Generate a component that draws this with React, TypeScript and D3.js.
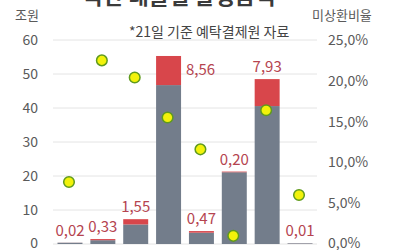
import React from "react";
import * as d3 from "d3";

const categories = ["1", "2", "3", "4", "5", "6", "7", "8"];
const totalIssued = [0.4, 1.45, 7.3, 55.3, 3.8, 21.3, 48.5, 0.2];
const unredeemed = [0.02, 0.33, 1.55, 8.56, 0.47, 0.2, 7.93, 0.01];
const unredeemedRatio = [7.6, 22.5, 20.4, 15.5, 11.6, 1.0, 16.4, 6.0];
const leftTicks = [0, 10, 20, 30, 40, 50, 60];
const rightTicks = [0, 5, 10, 15, 20, 25];

const FONT = "'Noto Sans CJK KR', 'Noto Sans', sans-serif";

export default function App() {
  const W = 400;
  const H = 250;
  const x = d3
    .scaleBand<string>()
    .domain(categories)
    .range([53, 317])
    .paddingInner(0.24)
    .paddingOuter(0.137);
  const yL = d3.scaleLinear().domain([0, 60]).range([244, 40]);
  const yR = d3.scaleLinear().domain([0, 25]).range([244, 40]);
  const fmtVal = (v: number) => d3.format(".2f")(v).replace(".", ",");
  const fmtPct = (v: number) => d3.format(".1f")(v).replace(".", ",") + "%";

  const gray = "#737d8b";
  const red = "#d8464b";
  const labelRed = "#b54450";
  const axisText = "#5a5a5a";

  return (
    <svg
      width={W}
      height={H}
      style={{ position: "absolute", left: 0, top: 0, background: "#fff" }}
      fontFamily={FONT}
    >
      <rect width={W} height={H} fill="#fff" />
      {/* title (cut off at top) */}
      <text x={83} y={4} fontSize={22} fontWeight={700} fill="#3a3a3a">
        국간 대출별 발행금액
      </text>
      <text x={15} y={20} fontSize={13} fill={axisText}>
        조원
      </text>
      <text x={312} y={20} fontSize={13} fill={axisText}>
        미상환비율
      </text>
      {/* gridlines */}
      {leftTicks.map((t) => (
        <line
          key={"g" + t}
          x1={53}
          x2={317}
          y1={yL(t)}
          y2={yL(t)}
          stroke="#e4e4e4"
          strokeWidth={1}
        />
      ))}
      <text x={129} y={37} fontSize={14} fill="#444">
        *21일 기준 예탁결제원 자료
      </text>
      {leftTicks.map((t) => (
        <text
          key={"l" + t}
          x={38}
          y={yL(t)}
          dy={t === 0 ? "0.28em" : "0.35em"}
          textAnchor="end"
          fontSize={14}
          fill={axisText}
        >
          {t}
        </text>
      ))}
      {rightTicks.map((t) => (
        <text
          key={"r" + t}
          x={328}
          y={yR(t)}
          dy={t === 0 ? "0.28em" : "0.35em"}
          fontSize={14}
          fill={axisText}
        >
          {fmtPct(t)}
        </text>
      ))}
      {/* bars */}
      {categories.map((c, i) => {
        const bx = x(c)!;
        const bw = x.bandwidth();
        const paid = totalIssued[i] - unredeemed[i];
        const yPaidTop = yL(paid);
        const yTop = yL(totalIssued[i]);
        return (
          <g key={"b" + c}>
            <rect x={bx} y={yPaidTop} width={bw} height={yL(0) - yPaidTop} fill={gray} />
            <rect x={bx} y={yTop} width={bw} height={yPaidTop - yTop} fill={red} />
          </g>
        );
      })}
      {/* value labels */}
      {categories.map((c, i) => {
        const bx = x(c)!;
        const bw = x.bandwidth();
        const yTop = yL(totalIssued[i]);
        const side = i === 3;
        if (side) {
          const mid = (yTop + yL(totalIssued[i] - unredeemed[i])) / 2;
          return (
            <text key={"v" + c} x={bx + bw + 5} y={mid + 4} fontSize={15} fill={labelRed}>
              {fmtVal(unredeemed[i])}
            </text>
          );
        }
        return (
          <text
            key={"v" + c}
            x={bx + bw / 2}
            y={yTop - 7}
            textAnchor="middle"
            fontSize={15}
            fill={labelRed}
          >
            {fmtVal(unredeemed[i])}
          </text>
        );
      })}
      {/* ratio dots */}
      {categories.map((c, i) => (
        <circle
          key={"d" + c}
          cx={x(c)! + x.bandwidth() / 2 - 1}
          cy={yR(unredeemedRatio[i])}
          r={5.3}
          fill="#f2f20a"
          stroke="#5f9a1e"
          strokeWidth={1.5}
        />
      ))}
    </svg>
  );
}
